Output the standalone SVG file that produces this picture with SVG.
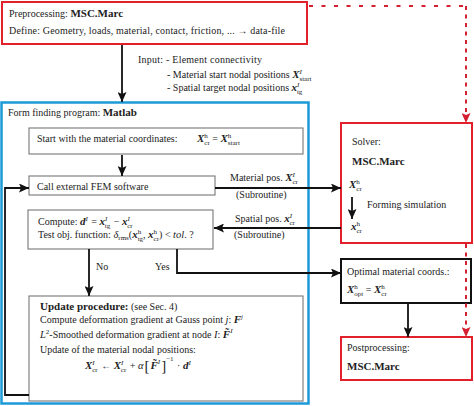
<svg xmlns="http://www.w3.org/2000/svg" width="474" height="406" viewBox="0 0 474 406">
<defs>
<style>
text{font-family:'Liberation Serif','Times New Roman',serif;font-size:10px;fill:#222}
.b{font-weight:bold}
.pb{font-weight:bold;font-size:11px}
.bi{font-weight:bold;font-style:italic;font-size:11px}
.i{font-style:italic;font-size:10.5px}
.s{font-size:7px}
.br{font-size:15px}
.red{fill:#fff;stroke:#e2202b;stroke-width:2}
.blue{fill:none;stroke:#1c9ad8;stroke-width:2.5}
.gray{fill:#fff;stroke:#777;stroke-width:1.1}
.blk{fill:#fff;stroke:#111;stroke-width:2}
.c{fill:none;stroke:#111;stroke-width:1.8}
.cr{fill:none;stroke:#d42030;stroke-width:2}
</style>
<marker id="ah" markerUnits="userSpaceOnUse" markerWidth="11" markerHeight="9" refX="10" refY="4.5" orient="auto"><path d="M0,0 L10,4.5 L0,9 L2,4.5z" fill="#111"/></marker>
<marker id="ahr" markerUnits="userSpaceOnUse" markerWidth="11" markerHeight="9" refX="10" refY="4.5" orient="auto"><path d="M0,0 L10,4.5 L0,9 L2,4.5z" fill="#d42030"/></marker>
</defs>
<rect width="474" height="406" fill="#fff"/>

<g id="matlab">
<rect class="blue" x="1.5" y="102.5" width="307" height="301"/>
<text x="8" y="116">Form finding program: <tspan class="pb">Matlab</tspan></text>
</g>

<g id="preprocessing">
<rect class="red" x="2" y="2" width="305" height="42"/>
<text x="9" y="17">Preprocessing: <tspan class="pb">MSC.Marc</tspan></text>
<text x="9" y="34" textLength="276">Define: Geometry, loads, material, contact, friction, ... → data-file</text>
</g>

<g id="input-labels">
<text x="138" y="63" textLength="124">Input: - Element connectivity</text>
<text x="167" y="78">- Material start nodal positions <tspan class="bi">X</tspan><tspan class="s i" dy="-4">I</tspan><tspan class="s" dx="-2.5" dy="6.5">start</tspan></text>
<text x="167" y="91">- Spatial target nodal positions <tspan class="bi">x</tspan><tspan class="s i" dy="-4">I</tspan><tspan class="s" dx="-2.5" dy="6.5">tg</tspan></text>
</g>

<g id="start">
<rect class="gray" x="29" y="128" width="274" height="26"/>
<text x="37" y="142">Start with the material coordinates:<tspan x="197" class="bi">X</tspan><tspan class="s" dy="-4">h</tspan><tspan class="s" dx="-3.5" dy="6.5">cr</tspan><tspan dy="-2.5"> = </tspan><tspan class="bi">X</tspan><tspan class="s" dy="-4">h</tspan><tspan class="s" dx="-3.5" dy="6.5">start</tspan></text>
</g>

<g id="call">
<rect class="gray" x="29" y="176" width="186" height="19"/>
<text x="37" y="190">Call external FEM software</text>
</g>

<g id="compute">
<rect class="gray" x="28" y="210" width="185" height="39"/>
<text x="38" y="225">Compute: <tspan class="bi">d</tspan><tspan class="s i" dy="-4">I</tspan><tspan dy="4" dx="1"> = </tspan><tspan class="bi">x</tspan><tspan class="s i" dy="-4">I</tspan><tspan class="s" dx="-2.5" dy="6.5">tg</tspan><tspan dy="-2.5" dx="1"> − </tspan><tspan class="bi">x</tspan><tspan class="s i" dy="-4">I</tspan><tspan class="s" dx="-2.5" dy="6.5">cr</tspan></text>
<text x="38" y="238">Test obj. function: <tspan class="i">δ</tspan><tspan class="s" dy="2">rms</tspan><tspan dy="-2">(</tspan><tspan class="bi">x</tspan><tspan class="s" dy="-4">h</tspan><tspan class="s" dx="-3.5" dy="6.5">tg</tspan><tspan dy="-2.5">, </tspan><tspan class="bi">x</tspan><tspan class="s" dy="-4">h</tspan><tspan class="s" dx="-3.5" dy="6.5">cr</tspan><tspan dy="-2.5">)  &lt;  </tspan><tspan class="i">tol</tspan>. ?</text>
</g>

<g id="update">
<rect class="gray" x="29" y="296" width="274" height="105"/>
<text x="40" y="310"><tspan class="pb">Update procedure:</tspan> (see Sec. 4)</text>
<text x="40" y="323">Compute deformation gradient at Gauss point <tspan class="i">j</tspan>: <tspan class="bi">F</tspan><tspan class="s i" dy="-4">j</tspan></text>
<text x="40" y="338"><tspan class="i">L</tspan><tspan class="s" dy="-4">2</tspan><tspan dy="4">-Smoothed deformation gradient at node </tspan><tspan class="i">I</tspan>: <tspan class="bi">F̃</tspan><tspan class="s i" dy="-5">I</tspan></text>
<text x="40" y="353">Update of the material nodal positions:</text>
<text x="85" y="369"><tspan class="bi">X</tspan><tspan class="s i" dy="-4">I</tspan><tspan class="s" dx="-2.5" dy="6.5">cr</tspan><tspan dy="-2.5" dx="1"> ← </tspan><tspan class="bi">X</tspan><tspan class="s i" dy="-4">I</tspan><tspan class="s" dx="-2.5" dy="6.5">cr</tspan><tspan dy="-2.5" dx="1"> + </tspan><tspan class="i">α</tspan><tspan class="br" dy="1.5" dx="1">[</tspan><tspan class="bi" dy="-1.5" dx="1">F̃</tspan><tspan class="s i" dy="-5.5">I</tspan><tspan class="br" dy="7" dx="1">]</tspan><tspan class="s" dy="-9.5">−1</tspan><tspan dy="8" dx="1"> · </tspan><tspan class="bi">d</tspan><tspan class="s i" dy="-4">I</tspan></text>
</g>

<g id="solver">
<rect class="red" x="341" y="123" width="131" height="120"/>
<text x="352" y="145">Solver:</text>
<text x="352" y="165" class="pb">MSC.Marc</text>
<text x="349" y="188"><tspan class="bi">X</tspan><tspan class="s" dy="-4">h</tspan><tspan class="s" dx="-3.5" dy="6.5">cr</tspan></text>
<text x="367" y="208">Forming simulation</text>
<text x="351" y="230"><tspan class="bi">x</tspan><tspan class="s" dy="-4">h</tspan><tspan class="s" dx="-3.5" dy="6.5">cr</tspan></text>
</g>

<g id="optimal">
<rect class="blk" x="341" y="259" width="130" height="44"/>
<text x="347" y="275">Optimal material coords.:</text>
<text x="347" y="293"><tspan class="bi">X</tspan><tspan class="s" dy="-4">h</tspan><tspan class="s" dx="-3.5" dy="6.5">opt</tspan><tspan dy="-2.5"> = </tspan><tspan class="bi">X</tspan><tspan class="s" dy="-4">h</tspan><tspan class="s" dx="-3.5" dy="6.5">cr</tspan></text>
</g>

<g id="postprocessing">
<rect class="red" x="341" y="337" width="131" height="43"/>
<text x="347" y="351">Postprocessing:</text>
<text x="347" y="370" class="pb">MSC.Marc</text>
</g>

<g id="connectors">
<path class="c" d="M122,45 V102" marker-end="url(#ah)"/>
<path class="c" d="M122,155 V176" marker-end="url(#ah)"/>
<path class="c" d="M215,188 H341" marker-end="url(#ah)"/>
<path class="c" d="M341,228 H214" marker-end="url(#ah)"/>
<path class="c" d="M89,249 V296" marker-end="url(#ah)"/>
<path class="c" d="M177,249 V273 H341" marker-end="url(#ah)"/>
<path class="c" d="M408,303 V337" marker-end="url(#ah)"/>
<path class="c" d="M29,395 H5 V188 H29" marker-end="url(#ah)"/>
<path class="c" d="M352,197 V219" marker-end="url(#ah)"/>
<path class="cr" d="M309,6 H466" stroke-dasharray="4 8.5"/>
<path class="cr" d="M466,6 V123" stroke-dasharray="4 4.5" marker-end="url(#ahr)"/>
<path class="cr" d="M466,244 V337" stroke-dasharray="4 4.5" marker-end="url(#ahr)"/>
<text x="230" y="181">Material pos. <tspan class="bi">X</tspan><tspan class="s i" dy="-4">I</tspan><tspan class="s" dx="-2.5" dy="6.5">cr</tspan></text>
<text x="236" y="198">(Subroutine)</text>
<text x="235" y="222">Spatial pos. <tspan class="bi">x</tspan><tspan class="s i" dy="-4">I</tspan><tspan class="s" dx="-2.5" dy="6.5">cr</tspan></text>
<text x="234" y="238">(Subroutine)</text>
<text x="96" y="270">No</text>
<text x="155" y="270">Yes</text>
</g>
</svg>
